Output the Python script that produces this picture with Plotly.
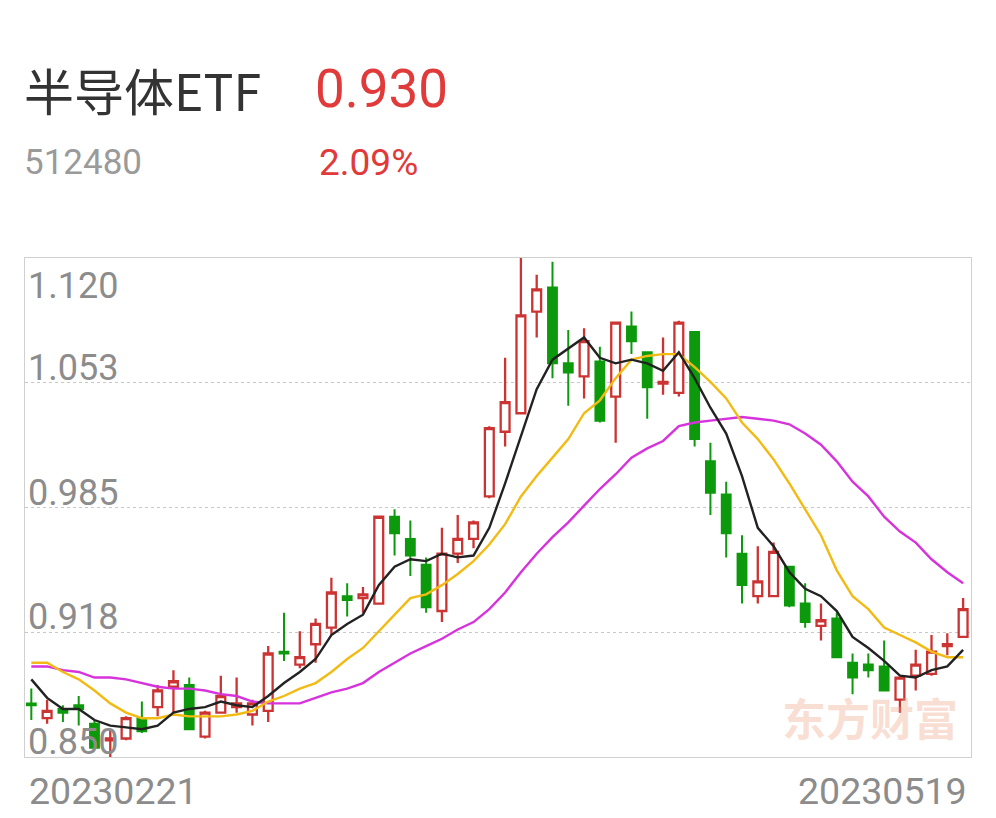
import plotly.graph_objects as go

# ---------------- data ----------------
dates = [
    "20230221", "20230222", "20230223", "20230224", "20230227", "20230228",
    "20230301", "20230302", "20230303", "20230306", "20230307", "20230308", "20230309", "20230310",
    "20230313", "20230314", "20230315", "20230316", "20230317", "20230320", "20230321", "20230322",
    "20230323", "20230324", "20230327", "20230328", "20230329", "20230330", "20230331",
    "20230403", "20230404", "20230406", "20230407", "20230410", "20230411", "20230412", "20230413",
    "20230414", "20230417", "20230418", "20230419", "20230420", "20230421", "20230424", "20230425",
    "20230426", "20230427", "20230428",
    "20230504", "20230505", "20230508", "20230509", "20230510", "20230511", "20230512",
    "20230515", "20230516", "20230517", "20230518", "20230519",
]

open_ = [0.879, 0.871, 0.876, 0.878, 0.868, 0.859, 0.860, 0.871, 0.877, 0.888,
         0.889, 0.861, 0.874, 0.877, 0.873, 0.875, 0.907, 0.900, 0.911, 0.920,
         0.937, 0.936, 0.933, 0.980, 0.968, 0.954, 0.929, 0.960, 0.968, 0.991,
         1.026, 1.036, 1.091, 1.104, 1.063, 1.056, 1.064, 1.045, 1.083, 1.069,
         1.052, 1.047, 1.080, 1.010, 0.992, 0.960, 0.937, 0.937, 0.953, 0.933,
         0.921, 0.925, 0.901, 0.900, 0.899, 0.881, 0.894, 0.895, 0.910, 0.915]
close = [0.878, 0.875, 0.874, 0.876, 0.855, 0.860, 0.871, 0.864, 0.886, 0.891,
         0.865, 0.874, 0.883, 0.879, 0.879, 0.906, 0.906, 0.904, 0.922, 0.939,
         0.935, 0.938, 0.980, 0.971, 0.959, 0.931, 0.960, 0.968, 0.977, 1.028,
         1.042, 1.089, 1.103, 1.063, 1.058, 1.075, 1.032, 1.085, 1.075, 1.050,
         1.053, 1.085, 1.022, 0.993, 0.971, 0.943, 0.945, 0.961, 0.932, 0.923,
         0.924, 0.904, 0.893, 0.897, 0.886, 0.893, 0.900, 0.907, 0.911, 0.930]
high = [0.887, 0.881, 0.878, 0.883, 0.870, 0.865, 0.872, 0.880, 0.889, 0.897,
        0.893, 0.875, 0.894, 0.893, 0.881, 0.910, 0.928, 0.918, 0.925, 0.947,
        0.944, 0.942, 0.980, 0.984, 0.978, 0.958, 0.974, 0.981, 0.978, 1.029,
        1.066, 1.120, 1.111, 1.118, 1.081, 1.082, 1.072, 1.085, 1.091, 1.069,
        1.077, 1.086, 1.080, 1.020, 0.999, 0.970, 0.964, 0.966, 0.953, 0.944,
        0.933, 0.928, 0.906, 0.906, 0.913, 0.893, 0.908, 0.916, 0.917, 0.936]
low = [0.870, 0.868, 0.869, 0.867, 0.854, 0.850, 0.859, 0.863, 0.872, 0.874,
       0.865, 0.860, 0.874, 0.874, 0.867, 0.869, 0.902, 0.898, 0.901, 0.916,
       0.926, 0.928, 0.933, 0.959, 0.948, 0.928, 0.923, 0.955, 0.963, 0.990,
       1.018, 1.036, 1.077, 1.055, 1.040, 1.044, 1.031, 1.020, 1.068, 1.033,
       1.046, 1.045, 1.018, 0.981, 0.958, 0.933, 0.933, 0.937, 0.931, 0.920,
       0.913, 0.904, 0.884, 0.893, 0.886, 0.874, 0.886, 0.894, 0.905, 0.915]

ma5 = [0.892, 0.882, 0.876, 0.876, 0.870, 0.867, 0.866, 0.865, 0.867, 0.874,
       0.876, 0.877, 0.880, 0.878, 0.877, 0.883, 0.890, 0.896, 0.903, 0.916,
       0.922, 0.927, 0.943, 0.953, 0.957, 0.956, 0.960, 0.958, 0.959, 0.974,
       0.998, 1.024, 1.049, 1.065, 1.071, 1.077, 1.066, 1.063, 1.065, 1.063,
       1.059, 1.069, 1.055, 1.039, 1.025, 1.002, 0.974, 0.964, 0.950, 0.941,
       0.937, 0.929, 0.915, 0.909, 0.902, 0.894, 0.893, 0.897, 0.899, 0.908]
ma10 = [0.901, 0.901, 0.896, 0.892, 0.886, 0.879, 0.874, 0.871, 0.871, 0.873,
        0.872, 0.872, 0.872, 0.873, 0.875, 0.880, 0.883, 0.887, 0.890, 0.896,
        0.903, 0.909, 0.918, 0.927, 0.936, 0.938, 0.943, 0.949, 0.956, 0.965,
        0.976, 0.991, 1.002, 1.012, 1.022, 1.036, 1.043, 1.055, 1.065, 1.067,
        1.068, 1.068, 1.061, 1.053, 1.044, 1.031, 1.022, 1.011, 0.998, 0.984,
        0.970, 0.951, 0.937, 0.930, 0.920, 0.916, 0.912, 0.907, 0.904, 0.904]
ma20 = [0.899, 0.899, 0.897, 0.896, 0.893, 0.893, 0.892, 0.890, 0.888, 0.887,
        0.887, 0.886, 0.884, 0.883, 0.880, 0.879, 0.879, 0.879, 0.882, 0.885,
        0.887, 0.890, 0.896, 0.901, 0.906, 0.910, 0.914, 0.919, 0.923, 0.930,
        0.939, 0.950, 0.960, 0.969, 0.977, 0.986, 0.995, 1.003, 1.012, 1.017,
        1.021, 1.029, 1.031, 1.032, 1.033, 1.034, 1.033, 1.032, 1.030, 1.025,
        1.019, 1.010, 0.999, 0.991, 0.980, 0.972, 0.966, 0.957, 0.950, 0.944]

ytick_vals = [1.120, 1.0525, 0.985, 0.9175, 0.850]
ytick_text = ["1.120", "1.053", "0.985", "0.918", "0.850"]

name_text = "半导体ETF"
code_text = "512480"
price_text = "0.930"
pct_text = "2.09%"
watermark_text = "东方财富"

# ---------------- style ----------------
# page coordinates of the plot box; the page body margin is removed below
L, R, T, B = 25, 971, 258, 757
W, H = 996, 818
RED = "#cc3333"
GREEN = "#0c9a0c"


def px(xp):
    return (xp - L) / (R - L)


def py(yp):
    return (B - yp) / (B - T)


fig = go.Figure()

fig.add_trace(go.Candlestick(
    x=dates, open=open_, high=high, low=low, close=close,
    increasing=dict(line=dict(color=RED, width=2.3), fillcolor="#ffffff"),
    decreasing=dict(line=dict(color=GREEN, width=2), fillcolor=GREEN),
    whiskerwidth=0, hoverinfo="skip", showlegend=False,
))

for vals, col in ((ma20, "#d733dc"), (ma10, "#f2bb14"), (ma5, "#222222")):
    fig.add_trace(go.Scatter(
        x=dates, y=vals, mode="lines",
        line=dict(color=col, width=2.4), hoverinfo="skip", showlegend=False,
    ))

annotations = []
# y labels inside plot
for v, t in zip(ytick_vals, ytick_text):
    top = v == ytick_vals[0]
    annotations.append(dict(
        x=px(26), xref="paper", xanchor="left",
        y=v, yref="y", yanchor="top" if top else "bottom",
        yshift=-5 if top else -8,
        text=t, showarrow=False,
        font=dict(family="Roboto", size=36, color="#8c8c8c"),
    ))

# date labels (x given as category index)
annotations.append(dict(x=0, xref="x", xanchor="left", xshift=-3,
                        y=py(791), yref="paper", yanchor="middle",
                        text=dates[0], showarrow=False, borderpad=0,
                        font=dict(family="Roboto", size=37.5, color="#8c8c8c")))
annotations.append(dict(x=len(dates) - 1, xref="x", xanchor="right", xshift=5,
                        y=py(791), yref="paper", yanchor="middle",
                        text=dates[-1], showarrow=False, borderpad=0,
                        font=dict(family="Roboto", size=37.5, color="#8c8c8c")))

# header
annotations += [
    dict(x=px(22), xref="paper", xanchor="left", y=py(89), yref="paper", yanchor="middle",
         text=name_text, showarrow=False,
         font=dict(family="Noto Sans CJK SC", size=50, color="#333333")),
    dict(x=px(313), xref="paper", xanchor="left", y=py(89), yref="paper", yanchor="middle",
         text=price_text, showarrow=False,
         font=dict(family="Roboto", size=53, color="#e03a3a")),
    dict(x=px(22), xref="paper", xanchor="left", y=py(162), yref="paper", yanchor="middle",
         text=code_text, showarrow=False,
         font=dict(family="Roboto", size=35, color="#9a9a9a")),
    dict(x=px(317), xref="paper", xanchor="left", y=py(162), yref="paper", yanchor="middle",
         text=pct_text, showarrow=False,
         font=dict(family="Roboto", size=37, color="#e03a3a")),
    dict(x=px(870), xref="paper", xanchor="center", y=py(717), yref="paper", yanchor="middle",
         text="<b>" + watermark_text + "</b>", showarrow=False,
         font=dict(family="Noto Sans CJK SC", size=44, color="rgba(238,160,130,0.35)")),
]

fig.update_layout(
    width=W, height=H,
    margin=dict(l=L, r=W - R, t=T, b=H - B, pad=0),
    paper_bgcolor="#ffffff", plot_bgcolor="#ffffff",
    annotations=annotations,
    hovermode=False,
    boxgap=0.2,
    xaxis=dict(type="category", range=[-0.4, len(dates) - 0.5],
               showticklabels=False, showgrid=False, zeroline=False,
               showline=True, mirror=True, linecolor="#d0d0d0", linewidth=1,
               rangeslider=dict(visible=False), fixedrange=True),
    yaxis=dict(range=[0.850, 1.120], tickvals=ytick_vals, showticklabels=False,
               showgrid=True, gridcolor="#c8c8c8", griddash="dot", gridwidth=1,
               zeroline=False, showline=True, mirror=True, linecolor="#d0d0d0",
               linewidth=1, fixedrange=True),
)

fig.write_html(
    "out.html",
    config={"displayModeBar": False},
    post_script="document.body.style.margin='0';document.body.style.overflow='hidden';",
)
